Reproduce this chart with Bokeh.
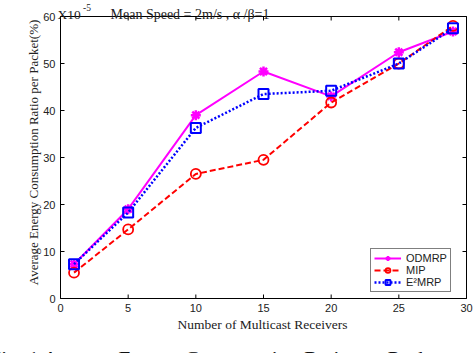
from bokeh.plotting import figure
from bokeh.models import (Range1d, LinearAxis, Legend, LegendItem, FixedTicker, Label)
from bokeh.embed import file_html
from bokeh.resources import INLINE

# ---- data ----
receivers = [1, 5, 10, 15, 20, 25, 29]
odmrp = [7.3, 19.0, 39.0, 48.3, 43.0, 52.4, 56.8]
mip = [5.5, 14.7, 26.5, 29.5, 41.7, 50.0, 58.0]
e2mrp = [7.3, 18.3, 36.3, 43.5, 44.2, 50.0, 57.5]
x_ticks = [0, 5, 10, 15, 20, 25, 30]
y_ticks = [0, 10, 20, 30, 40, 50, 60]
x_bounds = (0, 30)
y_bounds = (0, 60)

scale_text = "X10"
scale_exp = "-5"
title_text = "Mean Speed = 2m/s , \u03b1 /\u03b2=1"
x_label = "Number of Multicast Receivers"
y_label = "Average Energy Consumption Ratio per Packet(%)"
caption = "Fig. 1 Average Energy Consumption Ratio per Packet vs"

SERIF = "Liberation Serif"
SANS = "Liberation Sans"

W, H = 474, 353
# plot box in canvas pixels (left, right, top, bottom)
BL, BR, BT, BB = 60, 466, 16, 298
TICK = 4  # inward tick length in pixels
sx = (BR - BL) / (x_bounds[1] - x_bounds[0])
sy = (BB - BT) / (y_bounds[1] - y_bounds[0])

def dx(px):
    return x_bounds[0] + (px - BL) / sx

def dy(py):
    return y_bounds[0] + (BB - py) / sy

p = figure(width=W, height=H, output_backend="svg", toolbar_location=None,
           x_range=Range1d(dx(0), dx(W)), y_range=Range1d(dy(H), dy(0)),
           min_border=0, x_axis_location=None, y_axis_location=None)
p.background_fill_color = "white"
p.border_fill_color = "white"
p.outline_line_color = None
p.grid.visible = False

def make_axis(ticks, bounds, loc):
    return LinearAxis(ticker=FixedTicker(ticks=ticks), bounds=bounds, fixed_location=loc,
                      major_tick_in=0, major_tick_out=0, minor_tick_in=0, minor_tick_out=0,
                      axis_line_color="black", major_tick_line_color=None,
                      major_label_text_font=SANS, major_label_text_font_size="11px",
                      major_label_text_color="#222222", major_label_standoff=5)

p.add_layout(make_axis(x_ticks, x_bounds, y_bounds[0]), "below")
p.add_layout(make_axis(y_ticks, y_bounds, x_bounds[0]), "left")
# box top and right edges: axis lines only (no labels)
p.add_layout(make_axis([], x_bounds, y_bounds[1]), "above")
p.add_layout(make_axis([], y_bounds, x_bounds[1]), "right")

# inward tick marks on all four sides of the box
nx, ny = len(x_ticks), len(y_ticks)
tx, ty = TICK / sx, TICK / sy
p.segment(x0=x_ticks, x1=x_ticks, y0=[y_bounds[0]] * nx, y1=[y_bounds[0] + ty] * nx,
          line_color="black", line_width=1)
p.segment(x0=x_ticks, x1=x_ticks, y0=[y_bounds[1]] * nx, y1=[y_bounds[1] - ty] * nx,
          line_color="black", line_width=1)
p.segment(x0=[x_bounds[0]] * ny, x1=[x_bounds[0] + tx] * ny, y0=y_ticks, y1=y_ticks,
          line_color="black", line_width=1)
p.segment(x0=[x_bounds[1]] * ny, x1=[x_bounds[1] - tx] * ny, y0=y_ticks, y1=y_ticks,
          line_color="black", line_width=1)

MAG = "#FF00FF"
RED = "#FF0000"
BLUE = "#0000FF"

l1 = p.line(receivers, odmrp, line_color=MAG, line_width=2)
m1 = p.scatter(receivers, odmrp, marker="asterisk", size=10, line_color=MAG, line_width=2.5)
l2 = p.line(receivers, mip, line_color=RED, line_width=2, line_dash="6 3")
m2 = p.scatter(receivers, mip, marker="circle", size=10, line_color=RED,
               fill_color=None, line_width=1.8)
l3 = p.line(receivers, e2mrp, line_color=BLUE, line_width=2.5, line_dash="2 2")
m3 = p.scatter(receivers, e2mrp, marker="square", size=10, line_color=BLUE,
               fill_color=None, line_width=2)

legend = Legend(items=[
    LegendItem(label="ODMRP", renderers=[l1, m1]),
    LegendItem(label="MIP", renderers=[l2, m2]),
    LegendItem(label="E\u00b2MRP", renderers=[l3, m3]),
], location=(370, H - 292))
legend.border_line_color = "black"
legend.border_line_width = 1
legend.background_fill_color = "white"
legend.background_fill_alpha = 1
legend.label_text_font = SANS
legend.label_text_font_size = "11px"
legend.label_text_color = "#222222"
legend.glyph_width = 27
legend.glyph_height = 12
legend.spacing = 0
legend.padding = 3
legend.margin = 0
legend.label_standoff = 5
legend.label_height = 12
p.add_layout(legend, "center")

def label(px, py, text, size, align="left", baseline="alphabetic", angle=0, color="#222222"):
    p.add_layout(Label(x=dx(px), y=dy(py), text=text, text_font=SERIF,
                       text_font_size=size, text_color=color, text_align=align,
                       text_baseline=baseline, angle=angle))

label(110, 14, title_text, "14px")
label(57, 13.5, scale_text, "13.5px")
label(82.5, 7, scale_exp, "9.5px")
label(262, 324, x_label, "13.5px", align="center", baseline="middle")
label(33, 152, y_label, "13px", align="center", baseline="middle", angle=1.5707963)
label(-11, 358, caption, "21.2px", color="#111111")

open("out.html", "w").write(file_html(p, INLINE))
